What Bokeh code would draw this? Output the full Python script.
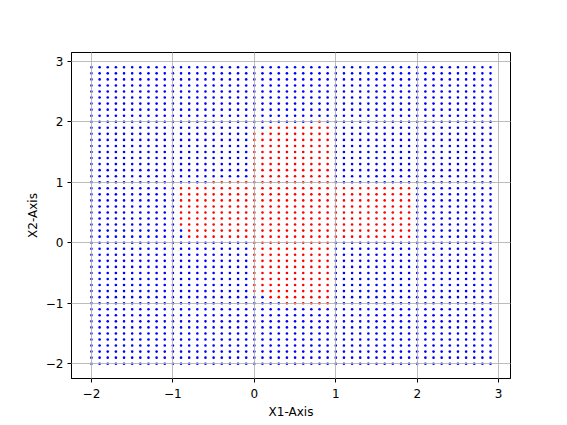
from bokeh.plotting import figure
from bokeh.models import Range1d, FixedTicker
from bokeh.embed import file_html
from bokeh.resources import INLINE

# Grid of sample points
x1_values = [-2.0, -1.9, -1.8, -1.7, -1.6, -1.5, -1.4, -1.3, -1.2, -1.1,
             -1.0, -0.9, -0.8, -0.7, -0.6, -0.5, -0.4, -0.3, -0.2, -0.1,
             0.0, 0.1, 0.2, 0.3, 0.4, 0.5, 0.6, 0.7, 0.8, 0.9,
             1.0, 1.1, 1.2, 1.3, 1.4, 1.5, 1.6, 1.7, 1.8, 1.9,
             2.0, 2.1, 2.2, 2.3, 2.4, 2.5, 2.6, 2.7, 2.8, 2.9]
x2_values = [-2.0, -1.9, -1.8, -1.7, -1.6, -1.5, -1.4, -1.3, -1.2, -1.1,
             -1.0, -0.9, -0.8, -0.7, -0.6, -0.5, -0.4, -0.3, -0.2, -0.1,
             0.0, 0.1, 0.2, 0.3, 0.4, 0.5, 0.6, 0.7, 0.8, 0.9,
             1.0, 1.1, 1.2, 1.3, 1.4, 1.5, 1.6, 1.7, 1.8, 1.9,
             2.0, 2.1, 2.2, 2.3, 2.4, 2.5, 2.6, 2.7, 2.8, 2.9]

# Red (class 1) runs: for each x2 row, the x1 range [start, end] that is red
red_row_x2 = [2.0, 1.9, 1.8, 1.7, 1.6, 1.5, 1.4, 1.3, 1.2, 1.1,
              1.0, 0.9, 0.8, 0.7, 0.6, 0.5, 0.4, 0.3, 0.2, 0.1,
              0.0, -0.1, -0.2, -0.3, -0.4, -0.5, -0.6, -0.7, -0.8, -0.9, -1.0]
red_row_start = [0.8, 0.2, 0.0, 0.0, 0.0, 0.0, 0.0, 0.0, 0.0, 0.0,
                 -0.5, -0.9, -0.9, -0.9, -0.9, -0.9, -0.9, -0.9, -0.8, -0.8,
                 0.0, 0.0, 0.0, 0.0, 0.0, 0.0, 0.0, 0.0, 0.0, 0.2, 0.4]
red_row_end = [0.8, 0.9, 0.9, 0.9, 0.9, 0.9, 0.9, 0.9, 0.9, 0.9,
               0.9, 1.9, 1.9, 1.9, 1.9, 1.9, 1.9, 1.9, 1.9, 1.9,
               0.9, 0.9, 0.9, 0.9, 0.9, 0.9, 0.9, 0.9, 0.9, 0.9, 0.9]

x_ticks = [-2, -1, 0, 1, 2, 3]
y_ticks = [-2, -1, 0, 1, 2, 3]
tick_labels = {-2: "\u22122", -1: "\u22121", 0: "0", 1: "1", 2: "2", 3: "3"}

def is_red(a, b):
    for r, s, e in zip(red_row_x2, red_row_start, red_row_end):
        if abs(b - r) < 1e-9 and s - 1e-9 <= a <= e + 1e-9:
            return True
    return False

bx, by, rx, ry = [], [], [], []
for b in x2_values:
    for a in x1_values:
        if is_red(a, b):
            rx.append(a); ry.append(b)
        else:
            bx.append(a); by.append(b)

p = figure(width=559, height=417, output_backend="svg", toolbar_location=None,
           x_range=Range1d(-2.245, 3.145), y_range=Range1d(-2.245, 3.145),
           min_border_left=71, min_border_right=49, min_border_top=52, min_border_bottom=39)
p.frame_width = 439
p.frame_height = 326

p.scatter(bx, by, marker="circle", size=2.6, fill_color="#0000ff", line_color=None)
p.scatter(rx, ry, marker="circle", size=2.6, fill_color="#ff0000", line_color=None)

p.outline_line_color = "black"
p.outline_line_width = 1
p.background_fill_color = "white"
p.border_fill_color = "white"

for g in (p.xgrid, p.ygrid):
    g.grid_line_color = "#b0b0b0"
    g.grid_line_width = 1
    g.grid_line_alpha = 0.85
    g.level = "overlay"
p.xgrid.ticker = FixedTicker(ticks=x_ticks)
p.ygrid.ticker = FixedTicker(ticks=y_ticks)

for ax in (p.xaxis[0], p.yaxis[0]):
    ax.major_tick_out = 4
    ax.major_tick_in = 0
    ax.minor_tick_out = 0
    ax.minor_tick_in = 0
    ax.axis_line_color = "black"
    ax.major_tick_line_color = "black"
    ax.major_label_text_font = "DejaVu Sans"
    ax.major_label_text_font_size = "12px"
    ax.major_label_text_color = "black"
    ax.axis_label_text_font = "DejaVu Sans"
    ax.axis_label_text_font_size = "12px"
    ax.axis_label_text_font_style = "normal"
    ax.axis_label_text_color = "black"
    ax.major_label_overrides = tick_labels

p.xaxis[0].ticker = FixedTicker(ticks=x_ticks)
p.yaxis[0].ticker = FixedTicker(ticks=y_ticks)
p.xaxis[0].axis_label = "X1-Axis"
p.yaxis[0].axis_label = "X2-Axis"
p.xaxis[0].major_label_standoff = 6
p.xaxis[0].axis_label_standoff = 4
p.yaxis[0].major_label_standoff = 4
p.yaxis[0].axis_label_standoff = 3

open("out.html", "w").write(file_html(p, INLINE))
